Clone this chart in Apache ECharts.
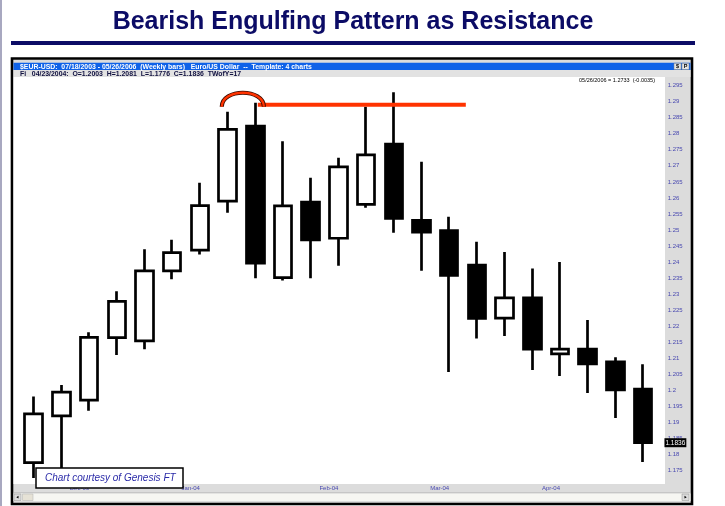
<!DOCTYPE html>
<html>
<head>
<meta charset="utf-8">
<script src="https://cdn.jsdelivr.net/npm/echarts@6/dist/echarts.min.js"></script>
<style>
html,body{margin:0;padding:0;background:#fff;}
#chart{width:725px;height:506px;}
</style>
</head>
<body>
<div id="chart"></div>
<script>
// ---- Data (weekly EUR/USD bars) ----
const categories = ['2003-11-21','2003-11-28','2003-12-05','2003-12-12','2003-12-19','2003-12-26',
  '2004-01-02','2004-01-09','2004-01-16','2004-01-23','2004-01-30','2004-02-06','2004-02-13',
  '2004-02-20','2004-02-27','2004-03-05','2004-03-12','2004-03-19','2004-03-26','2004-04-02',
  '2004-04-09','2004-04-16','2004-04-23'];
const opens  = [1.1774,1.1920,1.1969,1.2164,1.2154,1.2372,1.2437,1.2590,1.2824,1.2351,1.2587,1.2474,1.2580,1.2768,1.2530,1.2498,1.2390,1.2225,1.2288,1.2113,1.2128,1.2088,1.2003];
const closes = [1.1926,1.1994,1.2165,1.2277,1.2372,1.2429,1.2576,1.2814,1.2396,1.2575,1.2469,1.2697,1.2734,1.2536,1.2493,1.2358,1.2224,1.2288,1.2128,1.2128,1.2082,1.2001,1.1836];
const highs  = [1.1980,1.2016,1.2181,1.2309,1.2440,1.2469,1.2647,1.2869,1.2897,1.2777,1.2663,1.2725,1.2884,1.2930,1.2713,1.2541,1.2463,1.2431,1.2380,1.2400,1.2219,1.2103,1.2081];
const lows   = [1.1726,1.1745,1.1936,1.2110,1.2128,1.2346,1.2423,1.2554,1.2349,1.2342,1.2349,1.2388,1.2569,1.2491,1.2373,1.2057,1.2161,1.2169,1.2063,1.2044,1.1991,1.1913,1.1776];

const xTickIdx  = [2, 6, 11, 15, 19];
const xTickText = ['Dec-03','Jan-04','Feb-04','Mar-04','Apr-04'];

const yMin = 1.17, yMax = 1.30, yStep = 0.005;

// resistance annotation (bar-index units, price units)
const resistanceLevel = 1.2891;
const resistanceFrom = 8.09, resistanceTo = 15.6;
const arcFrom = 6.79, arcTo = 8.31, arcBase = 1.2884, arcTop = 1.2928;

const lastClose = closes[closes.length - 1];

const titleText = 'Bearish Engulfing Pattern as Resistance';
const headerText = '$EUR-USD:  07/18/2003 - 05/26/2006  (Weekly bars)   Euro/US Dollar  --  Template: 4 charts';
const infoText = 'Fi   04/23/2004:  O=1.2003  H=1.2081  L=1.1776  C=1.1836  TWofY=17';
const cornerText = '05/26/2006 = 1.2733  (-0.0035)';
const captionText = 'Chart courtesy of Genesis FT';

// ---- Build ----
const candleData = categories.map((d, i) => [opens[i], closes[i], lows[i], highs[i]]);
const FONT = '"Liberation Sans", Arial, sans-serif';
const axisBlue = '#4848b0';

const chart = echarts.init(document.getElementById('chart'), null, {renderer: 'canvas'});

const option = {
  animation: false,
  backgroundColor: '#ffffff',
  grid: {left: 19.85, right: 68.05, top: 69.7, bottom: 19.7},
  xAxis: [{
    type: 'category', data: categories, boundaryGap: true, z: 10,
    axisLine: {show: false}, axisTick: {show: false}, splitLine: {show: false},
    axisLabel: {
      interval: (i) => xTickIdx.indexOf(i) >= 0,
      formatter: (v, i) => xTickText[xTickIdx.indexOf(i)] || '',
      align: 'right', margin: -1, fontSize: 6, color: axisBlue, fontFamily: FONT
    }
  }, {
    type: 'value', min: -0.5, max: categories.length - 0.5, show: false
  }],
  yAxis: {
    type: 'value', position: 'right', min: yMin, max: yMax, interval: yStep, z: 10,
    axisLine: {show: false}, axisTick: {show: false}, splitLine: {show: false},
    axisLabel: {
      showMinLabel: false, showMaxLabel: false, margin: 10.7,
      fontSize: 6, color: axisBlue, fontFamily: FONT,
      formatter: (v) => String(parseFloat(v.toFixed(3)))
    }
  },
  series: [{
    type: 'candlestick', data: candleData, barWidth: 18, z: 3,
    itemStyle: {color: '#ffffff', color0: '#000000', borderColor: '#000000', borderColor0: '#000000', borderWidth: 2.7},
    emphasis: {disabled: true}
  }, {
    type: 'line', xAxisIndex: 1, z: 4, symbol: 'none', silent: true,
    lineStyle: {color: '#ff3300', width: 4, cap: 'butt'},
    data: [[resistanceFrom, resistanceLevel], [resistanceTo, resistanceLevel]]
  }, {
    type: 'custom', xAxisIndex: 1, z: 5, silent: true,
    data: [[arcFrom, arcTo, arcBase, arcTop]],
    encode: {x: [0, 1], y: [2, 3]},
    renderItem: function (params, api) {
      const a = api.coord([api.value(0), api.value(2)]);
      const b = api.coord([api.value(1), api.value(2)]);
      const t = api.coord([(api.value(0) + api.value(1)) / 2, api.value(3)]);
      const cy = a[1] - (a[1] - t[1]) / 0.75;
      const shape = {x1: a[0], y1: a[1], x2: b[0], y2: b[1], cpx1: a[0], cpy1: cy, cpx2: b[0], cpy2: cy};
      return {type: 'group', children: [
        {type: 'bezierCurve', shape: shape, style: {stroke: '#3a0a00', lineWidth: 4.2, fill: null}},
        {type: 'bezierCurve', shape: shape, style: {stroke: '#ff3300', lineWidth: 2.4, fill: null}}
      ]};
    }
  }, {
    // last-price tag on the price axis
    type: 'custom', xAxisIndex: 1, z: 12, silent: true, clip: false,
    data: [[categories.length - 0.5, lastClose]],
    encode: {x: 0, y: 1},
    renderItem: function (params, api) {
      const p = api.coord([api.value(0), api.value(1)]);
      return {
        type: 'text', x: p[0] + 7.5, y: p[1],
        style: {
          text: api.value(1).toFixed(4), fill: '#ffffff', backgroundColor: '#000000',
          font: '6.5px ' + FONT, align: 'left', verticalAlign: 'middle', padding: [1, 1, 1, 1]
        }
      };
    }
  }],
  graphic: [
    {type: 'rect', z: 0, shape: {x: 0, y: 0, width: 2, height: 506}, style: {fill: '#a8a8c0'}},
    {type: 'text', z: 1, x: 353, y: 22, style: {text: titleText, font: 'bold 25px ' + FONT, fill: '#0c0c66', align: 'center', verticalAlign: 'middle'}},
    {type: 'rect', z: 1, shape: {x: 11, y: 41, width: 684, height: 4}, style: {fill: '#0c0c66'}},
    {type: 'rect', z: 0, shape: {x: 12, y: 58.5, width: 680, height: 445.5}, style: {fill: '#dcdcdc', stroke: '#000', lineWidth: 2.6}},
    {type: 'rect', z: 0, shape: {x: 13.5, y: 62.7, width: 677, height: 7.4}, style: {fill: '#0f62e8'}},
    {type: 'text', z: 1, x: 20, y: 66.6, style: {text: headerText, font: 'bold 6.9px ' + FONT, fill: '#ffffff', verticalAlign: 'middle'}},
    {type: 'rect', z: 1, shape: {x: 674, y: 63.3, width: 7, height: 6.2}, style: {fill: '#e4e4e4', stroke: '#808080', lineWidth: 0.5}},
    {type: 'rect', z: 1, shape: {x: 682, y: 63.3, width: 7, height: 6.2}, style: {fill: '#e4e4e4', stroke: '#808080', lineWidth: 0.5}},
    {type: 'text', z: 2, x: 677.5, y: 66.6, style: {text: '$', font: 'bold 5.5px ' + FONT, fill: '#000', align: 'center', verticalAlign: 'middle'}},
    {type: 'text', z: 2, x: 685.5, y: 66.6, style: {text: 'P', font: 'bold 5.5px ' + FONT, fill: '#000', align: 'center', verticalAlign: 'middle'}},
    {type: 'rect', z: 0, shape: {x: 13.5, y: 70.1, width: 677, height: 6.9}, style: {fill: '#e2e2e2'}},
    {type: 'text', z: 1, x: 20, y: 73.8, style: {text: infoText, font: 'bold 6.9px ' + FONT, fill: '#101040', verticalAlign: 'middle'}},
    {type: 'rect', z: 0, shape: {x: 13.5, y: 77, width: 651.5, height: 407}, style: {fill: '#ffffff'}},
    {type: 'text', z: 1, x: 655, y: 80.5, style: {text: cornerText, font: '5.5px ' + FONT, fill: '#000', align: 'right', verticalAlign: 'middle'}},
    {type: 'rect', z: 0, shape: {x: 13.5, y: 492.5, width: 677, height: 0.8}, style: {fill: '#b0b0b0'}},
    {type: 'rect', z: 0, shape: {x: 13.5, y: 493.5, width: 677, height: 7.5}, style: {fill: '#f6f6f2'}},
    {type: 'rect', z: 1, shape: {x: 14, y: 494, width: 7, height: 6.5}, style: {fill: '#dcdcdc', stroke: '#909090', lineWidth: 0.5}},
    {type: 'rect', z: 1, shape: {x: 22.5, y: 494, width: 10.5, height: 6.5}, style: {fill: '#e6e2d6', stroke: '#b0b0b0', lineWidth: 0.5}},
    {type: 'rect', z: 1, shape: {x: 682, y: 494, width: 7, height: 6.5}, style: {fill: '#dcdcdc', stroke: '#909090', lineWidth: 0.5}},
    {type: 'polygon', z: 2, shape: {points: [[16.3, 497.2], [18.5, 495.8], [18.5, 498.6]]}, style: {fill: '#000'}},
    {type: 'polygon', z: 2, shape: {points: [[686.7, 497.2], [684.5, 495.8], [684.5, 498.6]]}, style: {fill: '#000'}},
    {type: 'rect', z: 50, shape: {x: 36, y: 468, width: 147, height: 20}, style: {fill: '#ffffff', stroke: '#000', lineWidth: 1.5}},
    {type: 'text', z: 51, x: 45, y: 478, style: {text: captionText, font: 'italic 10px ' + FONT, fill: '#2a2aa8', verticalAlign: 'middle'}}
  ]
};
chart.setOption(option);
</script>
</body>
</html>
